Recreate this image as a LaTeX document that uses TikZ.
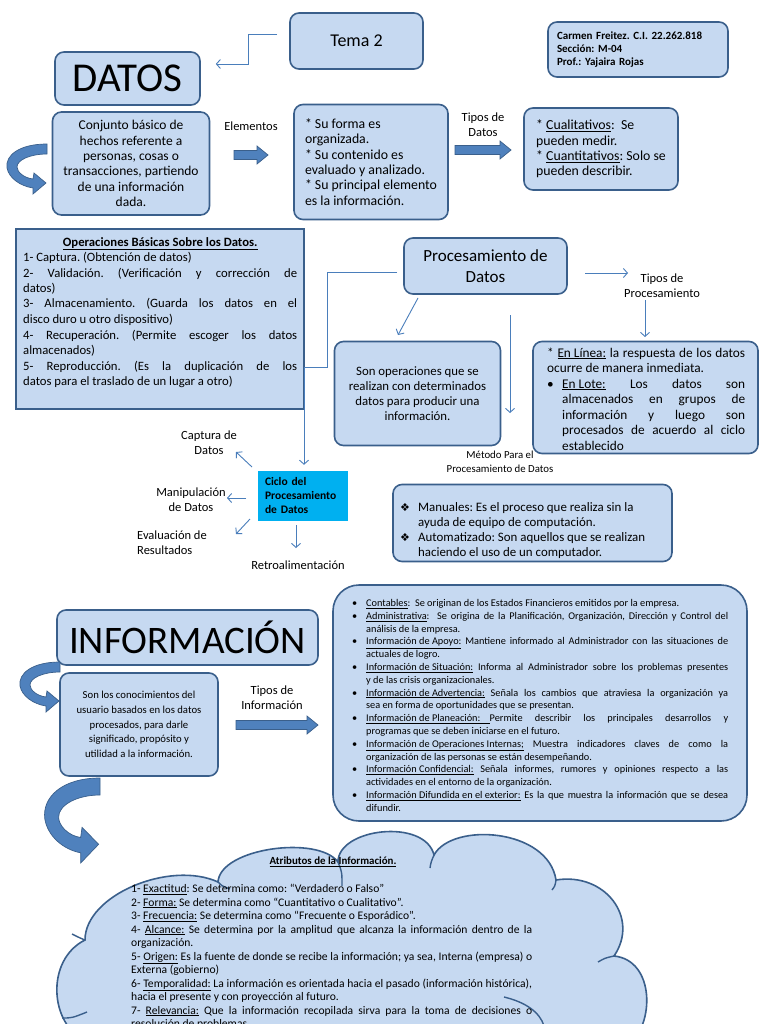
\documentclass[tikz,border=0pt]{standalone}
\usepackage{fontspec}
\setmainfont{Carlito}
\newfontfamily\dejavu{DejaVu Sans}
\usetikzlibrary{arrows.meta}
\definecolor{fillc}{HTML}{C6D9F1}
\definecolor{bordc}{HTML}{3A5F8B}
\definecolor{linec}{HTML}{4A7EBB}
\definecolor{arrfill}{HTML}{4F81BD}
\definecolor{cyanc}{HTML}{00B0F0}
\newcommand{\fs}[2]{\fontsize{#1}{#2}\selectfont}
\newcommand{\jl}[1]{\hbox to\hsize{\spaceskip=0.226em plus 1fil\xspaceskip=\spaceskip #1}}
\newcommand{\ul}[1]{\underline{#1}}
\newcommand{\dia}{{\dejavu\fontsize{11}{11}\selectfont ❖}}
\newcommand{\blockarr}[3]{%
  \filldraw[blk] (#1,#3-4.5) -- (#2-11,#3-4.5) -- (#2-11,#3-9) -- (#2,#3) -- (#2-11,#3+9) -- (#2-11,#3+4.5) -- (#1,#3+4.5) -- cycle;}
\newcommand{\curvarr}[4]{%
  \begin{scope}[shift={(#1,#2)},xscale=#3,yscale=#4]
  \filldraw[blk] (0,0) .. controls (-27,0) and (-42,11) .. (-40,24) .. controls (-38,34) and (-27,42) .. (-14,44) -- (-14,50) -- (-1,39) -- (-13,29) -- (-14,35) .. controls (-23,34) and (-30,28) .. (-30,23) .. controls (-30,16) and (-17,10) .. (0,10) -- cycle;
  \end{scope}}
\begin{document}
\frenchspacing
\begin{tikzpicture}[x=1pt,y=-1pt,
 box/.style={draw=bordc,fill=fillc,line width=1.6pt,rounded corners=9pt,inner sep=0pt},
 conn/.style={draw=linec,line width=0.9pt,-{Straight Barb[length=4pt,width=9pt]}},
 lab/.style={align=center,inner sep=0pt,font=\fs{12.5}{15.2}},
 blk/.style={fill=arrfill,draw=bordc,line width=0.7pt},
 txt/.style={inner sep=0pt,anchor=base west}]
\useasboundingbox (0,0) rectangle (768,1024);
\fill[white] (0,0) rectangle (768,1024);

% ---------- top row
\node[box,minimum width=133pt,minimum height=56pt,font=\fs{18}{22}] (tema) at (356.5,41) {Tema 2};
\node[box,minimum width=145pt,minimum height=53pt,font=\fs{41}{48}] (datos) at (127.5,78.5) {DATOS};
\node[box,minimum width=180pt,minimum height=55pt,text width=162pt,align=left,font=\fs{11}{13}\bfseries] (autor) at (638,49.5) {Carmen Freitez. C.I. 22.262.818\\Sección: M-04\\Prof.: Yajaira Rojas};
\draw[conn] ([xshift=-12pt,yshift=7pt]tema.west) -- (248,34) -- (248,64) -- ([xshift=15pt,yshift=14.5pt]datos.east);

% ---------- second row
\node[box,minimum width=157pt,minimum height=103pt,align=center,font=\fs{13.5}{15.3}] (conj) at (131,163.5) {Conjunto básico de\\hechos referente a\\personas, cosas o\\transacciones, partiendo\\de una información\\dada.};
\curvarr{47}{144}{1}{1}
\node[lab] (elem) at (251,126) {Elementos};
\blockarr{234}{268}{155}
\node[box,minimum width=154pt,minimum height=115pt,align=left,font=\fs{13.8}{15.4}] (forma) at (371,162) {* Su forma es\\organizada.\\* Su contenido es\\evaluado y analizado.\\* Su principal elemento\\es la información.};
\node[lab] (tdat) at (483,125) {Tipos de\\Datos};
\blockarr{455}{511}{150}
\node[box,minimum width=154pt,minimum height=82pt,align=left,font=\fs{13.8}{15.4}] (cual) at (601,149) {* \ul{Cualitativos}:\ \ Se\\pueden medir.\\* \ul{Cuantitativos}: Solo se\\pueden describir.};

% ---------- operaciones
\node[draw=bordc,fill=fillc,line width=1.6pt,minimum width=288pt,minimum height=180pt,inner sep=0pt] (ops) at (160,319) {};
\node[txt,text width=274pt,font=\fs{12.7}{15.5}] (opst) at (23,246) {%
\jl{\hfill\textbf{\ul{Operaciones Básicas Sobre los Datos.}}\hfill}
\jl{1- Captura. (Obtención de datos)\hfill}
\jl{2- Validación. (Verificación y corrección de}
\jl{datos)\hfill}
\jl{3- Almacenamiento. (Guarda los datos en el}
\jl{disco duro u otro dispositivo)\hfill}
\jl{4- Recuperación. (Permite escoger los datos}
\jl{almacenados)\hfill}
\jl{5- Reproducción. (Es la duplicación de los}
\jl{datos para el traslado de un lugar a otro)\hfill}};

% ---------- procesamiento
\node[box,minimum width=163pt,minimum height=56pt,align=center,font=\fs{17}{21}] (proc) at (485.5,266) {Procesamiento de\\Datos};
\node[lab] (tproc) at (662,286) {Tipos de\\Procesamiento};
\coordinate (p1) at (585,273); \coordinate (p2) at (628,273);
\draw[conn] (p1) -- (p2);
\coordinate (p3) at (645,300); \coordinate (p4) at (645,337);
\draw[conn] (p3) -- (p4);
\node[box,minimum width=225pt,minimum height=112pt] (enl) at (645.5,397.5) {};
\node[txt,text width=198pt,font=\fs{13.3}{15.5}] (enlt) at (547,357) {%
\jl{* \ul{En Línea:} la respuesta de los datos}
\jl{ocurre de manera inmediata.\hfill}
\jl{\hbox to15pt{•\hfil}\ul{En Lote:} Los datos son}
\jl{\hskip15pt almacenados en grupos de}
\jl{\hskip15pt información y luego son}
\jl{\hskip15pt procesados de acuerdo al ciclo}
\jl{\hskip15pt establecido\hfill}};
\node[box,minimum width=166pt,minimum height=104pt,align=center,font=\fs{12.8}{15.2}] (sonop) at (417.5,393.5) {Son operaciones que se\\realizan con determinados\\datos para producir una\\información.};
\coordinate (p5) at (418,298); \coordinate (p6) at (398,335);
\draw[conn] (p5) -- (p6);
\coordinate (p7) at (510,315); \coordinate (p8) at (510,413);
\draw[conn] (p7) -- (p8);
\node[lab,font=\fs{10.8}{13.5}] (metodo) at (500,462) {Método Para el\\Procesamiento de Datos};

% ---------- ciclo
\node[fill=cyanc,minimum width=90pt,minimum height=50pt,inner sep=0pt,text width=76pt,align=left,font=\fs{11.5}{14}\bfseries] (ciclo) at (303,496) {Ciclo del\\Procesamiento\\de Datos};
\draw[conn] ([xshift=-6pt,yshift=-6pt]proc.west) -- (327,272) -- (327,367) -- (304,367) -- ([xshift=1pt,yshift=6pt]ciclo.north);
\node[lab] (capt) at (209,443) {Captura de\\Datos};
\node[lab] (manip) at (191,500) {Manipulación\\de Datos};
\node[lab,align=left] (evalu) at (172,543) {Evaluación de\\Resultados};
\node[lab] (retro) at (298,565) {Retroalimentación};
\coordinate (q1) at (252,467); \coordinate (q2) at (236,452);
\draw[conn] (q1) -- (q2);
\coordinate (q3) at (246,498); \coordinate (q4) at (227,498);
\draw[conn] (q3) -- (q4);
\coordinate (q5) at (250,519); \coordinate (q6) at (236,534);
\draw[conn] (q5) -- (q6);
\coordinate (q7) at (296,525); \coordinate (q8) at (296,548);
\draw[conn] (q7) -- (q8);

% ---------- manuales
\node[box,minimum width=279pt,minimum height=77pt] (manu) at (532.5,523) {};
\node[txt,text width=270pt,font=\fs{12.9}{15.3}] (manut) at (400,511) {%
\jl{\hbox to18pt{\dia\hfil}Manuales: Es el proceso que realiza sin la\hfill}
\jl{\hskip18pt ayuda de equipo de computación.\hfill}
\jl{\hbox to18pt{\dia\hfil}Automatizado: Son aquellos que se realizan\hfill}
\jl{\hskip18pt haciendo el uso de un computador.\hfill}};

% ---------- informacion
\node[box,minimum width=261pt,minimum height=55pt,font=\fs{39}{46}] (info) at (187.5,637.5) {INFORMACIÓN};
\curvarr{60}{662}{1}{1}
\node[box,minimum width=158pt,minimum height=103pt,align=center,font=\fs{10.7}{14.6}] (sonlos) at (139,724.5) {Son los conocimientos del\\usuario basados en los datos\\procesados, para darle\\significado, propósito y\\utilidad a la información.};
\curvarr{100}{778}{1.38}{1.7}
\node[lab] (tinfl) at (272,698) {Tipos de\\Información};
\blockarr{236}{318}{725}
\node[box,minimum width=414pt,minimum height=236pt,rounded corners=26pt] (tinfo) at (540,703) {};
\node[txt,text width=376pt,font=\fs{10.3}{12.8}] (tinft) at (352,606.5) {%
\jl{\hbox to14pt{•\hfil}\ul{Contables}:\ \ Se originan de los Estados Financieros emitidos por la empresa.\hfill}
\jl{\hbox to14pt{•\hfil}\ul{Administrativa}:\ \ Se origina de la Planificación, Organización, Dirección y Control del}
\jl{\hskip14pt análisis de la empresa.\hfill}
\jl{\hbox to14pt{•\hfil}\ul{Información de Apoyo:} Mantiene informado al Administrador con las situaciones de}
\jl{\hskip14pt actuales de logro.\hfill}
\jl{\hbox to14pt{•\hfil}\ul{Información de Situación:} Informa al Administrador sobre los problemas presentes}
\jl{\hskip14pt y de las crisis organizacionales.\hfill}
\jl{\hbox to14pt{•\hfil}\ul{Información de Advertencia:} Señala los cambios que atraviesa la organización ya}
\jl{\hskip14pt sea en forma de oportunidades que se presentan.\hfill}
\jl{\hbox to14pt{•\hfil}\ul{Información de Planeación:\ \ \ \ }Permite describir los principales desarrollos y}
\jl{\hskip14pt programas que se deben iniciarse en el futuro.\hfill}
\jl{\hbox to14pt{•\hfil}\ul{Información de Operaciones Internas;} Muestra indicadores claves de como la}
\jl{\hskip14pt organización de las personas se están desempeñando.\hfill}
\jl{\hbox to14pt{•\hfil}\ul{Información Confidencial:} Señala informes, rumores y opiniones respecto a las}
\jl{\hskip14pt actividades en el entorno de la organización.\hfill}
\jl{\hbox to14pt{•\hfil}\ul{Información Difundida en el exterior:} Es la que muestra la información que se desea}
\jl{\hskip14pt difundir.\hfill}};

% ---------- cloud
\filldraw[fill=fillc,draw=bordc,line width=1.6pt] (85,1040) .. controls (50,1025) and (45,960) .. (85,940) .. controls (85,895) and (170,860) .. (218,882) .. controls (220,848) and (318,835) .. (338,862) .. controls (338,828) and (425,818) .. (434,855) .. controls (452,822) and (548,828) .. (556,880) .. controls (605,872) and (640,918) .. (614,956) .. controls (655,960) and (655,1025) .. (628,1045) -- cycle;
\draw[bordc,line width=1.4pt] (338,862) .. controls (342,872) .. (342,886);
\draw[bordc,line width=1.4pt] (218,882) .. controls (222,886) .. (230,889);
\draw[bordc,line width=1.4pt] (434,855) .. controls (431,862) .. (430,868);
\draw[bordc,line width=1.4pt] (556,880) .. controls (555,886) .. (552,890);
\draw[bordc,line width=1.4pt] (614,956) .. controls (605,958) .. (598,962);
\draw[bordc,line width=1.4pt] (85,940) .. controls (80,938) .. (72,934);
\draw[bordc,line width=1.4pt] (504,997) .. controls (525,1002) and (540,1012) .. (544,1026);
\draw[bordc,line width=1.4pt] (62,1018) .. controls (72,1018) .. (87,1012);
\node[inner sep=0pt,font=\fs{10.9}{13}\bfseries] (cloudtitle) at (333,862) {\ul{Atributos de la Información.}};
\node[txt,text width=401pt,font=\fs{11.6}{13.5}] (cloudt) at (131,892.5) {%
\jl{1- \ul{Exactitud}: Se determina como: “Verdadero o Falso”\hfill}
\jl{2- \ul{Forma:} Se determina como “Cuantitativo o Cualitativo”.\hfill}
\jl{3- \ul{Frecuencia:} Se determina como “Frecuente o Esporádico”.\hfill}
\jl{4- \ul{Alcance:} Se determina por la amplitud que alcanza la información dentro de la}
\jl{organización.\hfill}
\jl{5- \ul{Origen:} Es la fuente de donde se recibe la información; ya sea, Interna (empresa) o}
\jl{Externa (gobierno)\hfill}
\jl{6- \ul{Temporalidad:} La información es orientada hacia el pasado (información histórica),}
\jl{hacia el presente y con proyección al futuro.\hfill}
\jl{7- \ul{Relevancia:} Que la información recopilada sirva para la toma de decisiones o}
\jl{resolución de problemas.\hfill}};
\end{tikzpicture}
\end{document}
